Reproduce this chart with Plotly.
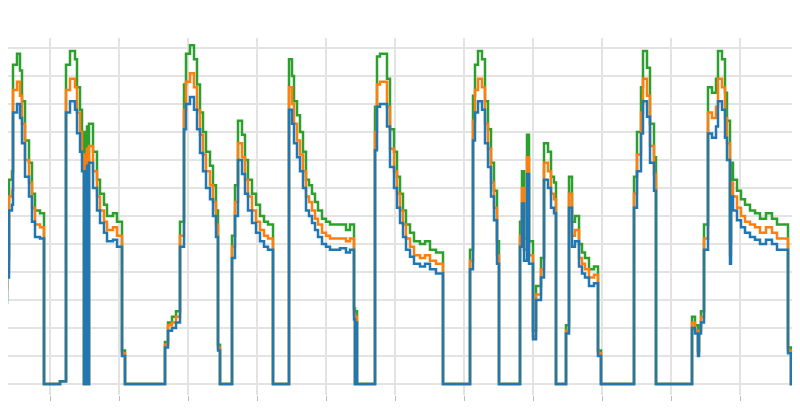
import plotly.graph_objects as go

# sample positions (pixel-like time units) and levels (one grid step = 1)
t = [0, 3, 7, 9, 12, 13, 17, 20, 22, 25, 29, 32, 35, 40, 44, 60, 66, 70, 75, 77, 80, 82, 84, 85, 86, 87, 88, 89, 93, 97, 100, 104, 107, 113, 117, 122, 125,
     165, 168, 172, 176, 180, 184, 186, 190, 194, 197, 200, 203, 206, 210, 213, 216, 218, 220,
     232, 235, 238, 242, 245, 248, 252, 256, 260, 264, 268, 273,
     289, 292, 294, 297, 300, 303, 306, 309, 312, 315, 318, 322, 326, 330, 340, 346, 350, 354, 355, 356, 357,
     375, 377, 380, 387, 390, 394, 397, 400, 403, 406, 410, 414, 420, 425, 430, 436, 443,
     470, 473, 475, 478, 482, 485, 488, 491, 494, 497, 499,
     520, 522, 524, 527, 529, 533, 536, 541, 544, 548, 551, 554, 556,
     566, 569, 572, 575, 579, 582, 585, 589, 594, 598, 601,
     634, 637, 641, 643, 647, 650, 654, 656,
     692, 695, 698, 699, 701, 704, 708, 712, 716, 718, 722, 725, 727, 730, 731, 733, 737, 741, 745, 750, 755, 760, 766, 772, 777, 788, 791, 800]

blue = [1.8, 2.9, 3.8, 6.2, 6.4, 9.7, 10.0, 9.5, 8.6, 7.4, 6.7, 5.8, 5.25, 5.2, 0, 0.1, 9.7, 10.1, 9.8, 8.96, 8.3, 7.6, 0, 7.6, 0, 7.8, 0, 7.9, 7.0, 6.2, 5.75, 5.4, 5.1, 5.15, 4.9, 1.0, 0,
        1.3, 1.9, 2.0, 2.2, 4.9, 9.1, 10.0, 10.25, 9.8, 9.1, 8.25, 7.6, 7.0, 6.6, 6.0, 5.25, 1.2, 0,
        4.5, 6.0, 8.0, 7.5, 6.8, 6.2, 5.75, 5.4, 5.1, 4.9, 4.8, 0,
        9.8, 9.3, 8.6, 8.1, 7.6, 7.0, 6.2, 6.0, 5.75, 5.5, 5.25, 5.0, 4.9, 4.8, 4.85, 4.7, 4.8, 2.3, 0, 2.2, 0,
        8.35, 9.9, 10.0, 9.2, 7.75, 7.0, 6.3, 5.75, 5.25, 4.8, 4.55, 4.3, 4.2, 4.3, 4.1, 3.95, 0,
        4.1, 8.7, 9.7, 10.1, 9.8, 8.6, 7.75, 6.7, 5.85, 4.3, 0,
        4.9, 6.45, 4.4, 7.5, 4.3, 1.6, 3.0, 3.8, 7.3, 7.0, 6.3, 6.1, 0,
        1.8, 6.3, 4.9, 5.1, 4.2, 3.95, 3.8, 3.5, 3.6, 1.0, 0,
        6.3, 7.6, 8.95, 10.1, 9.55, 7.9, 6.9, 0,
        2.0, 1.8, 1.0, 1.8, 2.2, 4.8, 8.95, 8.8, 9.2, 10.1, 9.8, 8.8, 8.0, 4.3, 6.7, 6.2, 5.85, 5.6, 5.4, 5.25, 5.15, 5.0, 5.15, 5.0, 4.8, 1.1, 0, 0]

orange = [1.9, 3.1, 4.1, 6.7, 6.9, 10.5, 10.8, 10.3, 9.3, 8.0, 7.2, 6.3, 5.7, 5.6, 0, 0.1, 10.5, 10.9, 10.6, 9.7, 9.0, 8.2, 0, 8.2, 0, 8.4, 0, 8.5, 7.6, 6.7, 6.2, 5.8, 5.5, 5.6, 5.3, 1.1, 0,
          1.4, 2.1, 2.2, 2.4, 5.3, 9.8, 10.8, 11.1, 10.6, 9.8, 8.9, 8.2, 7.6, 7.1, 6.5, 5.7, 1.3, 0,
          4.9, 6.5, 8.6, 8.1, 7.3, 6.7, 6.2, 5.8, 5.5, 5.3, 5.2, 0,
          10.6, 10.0, 9.3, 8.7, 8.2, 7.6, 6.7, 6.5, 6.2, 5.9, 5.7, 5.4, 5.3, 5.2, 5.2, 5.1, 5.2, 2.5, 0, 2.4, 0,
          9.0, 10.7, 10.8, 9.9, 8.4, 7.6, 6.8, 6.2, 5.7, 5.2, 4.9, 4.6, 4.5, 4.6, 4.4, 4.3, 0,
          4.4, 9.4, 10.5, 10.9, 10.6, 9.3, 8.4, 7.2, 6.3, 4.6, 0,
          5.3, 7.0, 4.8, 8.1, 4.6, 1.7, 3.2, 4.1, 7.9, 7.6, 6.8, 6.6, 0,
          1.9, 6.8, 5.3, 5.5, 4.5, 4.3, 4.1, 3.8, 3.9, 1.1, 0,
          6.8, 8.2, 9.7, 10.9, 10.3, 8.5, 7.5, 0,
          2.2, 1.9, 1.1, 1.9, 2.4, 5.2, 9.7, 9.5, 9.9, 10.9, 10.6, 9.5, 8.6, 4.6, 7.2, 6.7, 6.3, 6.0, 5.8, 5.7, 5.6, 5.4, 5.6, 5.4, 5.2, 1.2, 0, 0]

green = [2.1, 3.4, 4.5, 7.3, 7.6, 11.4, 11.8, 11.2, 10.1, 8.7, 7.9, 6.8, 6.2, 6.1, 0, 0.1, 11.4, 11.9, 11.6, 10.6, 9.8, 9.0, 0, 9.0, 0, 9.2, 0, 9.3, 8.3, 7.3, 6.8, 6.4, 6.0, 6.1, 5.8, 1.2, 0,
         1.5, 2.2, 2.4, 2.6, 5.8, 10.7, 11.8, 12.1, 11.6, 10.7, 9.7, 9.0, 8.3, 7.8, 7.1, 6.2, 1.4, 0,
         5.3, 7.1, 9.4, 8.9, 8.0, 7.3, 6.8, 6.4, 6.0, 5.8, 5.7, 0,
         11.6, 11.0, 10.1, 9.6, 9.0, 8.3, 7.3, 7.1, 6.8, 6.5, 6.2, 5.9, 5.8, 5.7, 5.7, 5.5, 5.7, 2.7, 0, 2.6, 0,
         9.9, 11.7, 11.8, 10.9, 9.1, 8.3, 7.4, 6.8, 6.2, 5.7, 5.4, 5.1, 5.0, 5.1, 4.8, 4.7, 0,
         4.8, 10.3, 11.4, 11.9, 11.6, 10.1, 9.1, 7.9, 6.9, 5.1, 0,
         5.8, 7.6, 5.2, 8.9, 5.1, 1.9, 3.5, 4.5, 8.6, 8.3, 7.4, 7.2, 0,
         2.1, 7.4, 5.8, 6.0, 5.0, 4.7, 4.5, 4.1, 4.2, 1.2, 0,
         7.4, 9.0, 10.6, 11.9, 11.3, 9.3, 8.1, 0,
         2.4, 2.1, 1.2, 2.1, 2.6, 5.7, 10.6, 10.4, 10.9, 11.9, 11.6, 10.4, 9.4, 5.1, 7.9, 7.3, 6.9, 6.6, 6.4, 6.2, 6.1, 5.9, 6.1, 5.9, 5.7, 1.3, 0, 0]

fig = go.Figure()
for name, ys, col in [("upper", green, "#2ca02c"), ("mid", orange, "#ff7f0e"), ("lower", blue, "#1f77b4")]:
    fig.add_trace(go.Scatter(x=t, y=ys, name=name, mode="lines", line=dict(color=col, width=2.5, shape="hv")))

# the page body adds an 8px offset, so the ranges are shifted to compensate
fig.update_layout(
    width=800, height=411, showlegend=False,
    margin=dict(l=0, r=0, t=30, b=24),
    plot_bgcolor="white", paper_bgcolor="white",
)
fig.update_xaxes(range=[8, 808], tick0=50, dtick=69, showgrid=True, gridcolor="#e3e3e3", gridwidth=1.5,
                 zeroline=False, showticklabels=False, ticks="outside", ticklen=5, tickcolor="#bbbbbb")
fig.update_yaxes(range=[-0.393, 12.36], dtick=1, showgrid=True, gridcolor="#e3e3e3", gridwidth=1.5,
                 zeroline=False, showticklabels=False)

fig.write_html("out.html")
